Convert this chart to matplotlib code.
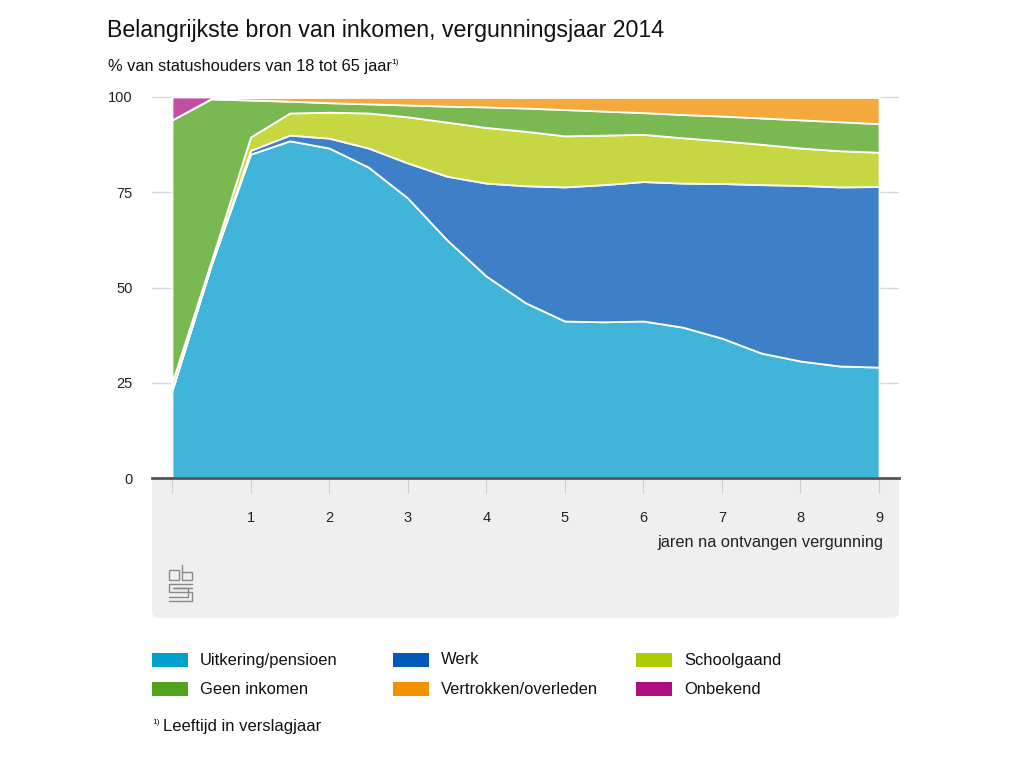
import matplotlib
matplotlib.use("Agg")
import matplotlib.pyplot as plt
from matplotlib.patches import FancyBboxPatch, Rectangle
from matplotlib.lines import Line2D

plt.rcParams['font.family'] = ['Liberation Sans', 'DejaVu Sans']

# jaren na ontvangen vergunning (halfjaarlijks)
jaren = [0, 0.5, 1, 1.5, 2, 2.5, 3, 3.5, 4, 4.5, 5, 5.5, 6, 6.5, 7, 7.5, 8, 8.5, 9]

uitkering = [23, 56, 85, 88.5, 86.6, 81.6, 73.5, 62.5, 53, 46, 41.2, 41, 41.2, 39.6, 36.7, 32.8, 30.7, 29.4, 29.1]
werk = [0, 0, 1, 1.5, 2.6, 5, 9.2, 16.7, 24.4, 30.7, 35.2, 36, 36.6, 37.8, 40.6, 44.2, 46.1, 47, 47.4]
school = [2, 1, 3.5, 5.8, 6.8, 9.2, 12.1, 14.2, 14.6, 14.3, 13.4, 13, 12.4, 11.9, 11.2, 10.6, 9.8, 9.5, 9]
geen = [69, 42.5, 9.7, 3.1, 2.5, 2.4, 3.1, 4.2, 5.4, 6.1, 6.9, 6.3, 5.7, 6.1, 6.5, 6.9, 7.4, 7.6, 7.5]
vertrokken = [0, 0.1, 0.7, 1.1, 1.5, 1.8, 2.1, 2.4, 2.6, 2.9, 3.3, 3.7, 4.1, 4.6, 5, 5.5, 6, 6.5, 7]
onbekend = [6, 0.4, 0.1, 0, 0, 0, 0, 0, 0, 0, 0, 0, 0, 0, 0, 0, 0, 0, 0]

namen = ['Uitkering/pensioen', 'Werk', 'Schoolgaand', 'Geen inkomen', 'Vertrokken/overleden', 'Onbekend']
kleuren_vlak = ['#40b5d9', '#3e80c8', '#c6d742', '#7ab852', '#f5a93c', '#c34ea4']
kleuren_legenda = ['#00a1cd', '#0058b8', '#afcb05', '#53a31d', '#f39200', '#af0e80']

W, H = 1024, 768
fig = plt.figure(figsize=(10.24, 7.68), dpi=100)

def fx(px):
    return px / W

def fy(py):
    return 1 - py / H

# grijs paneel onder de grafiek
paneel = FancyBboxPatch((fx(152), fy(618)), fx(899) - fx(152), fy(440) - fy(618),
                        boxstyle="round,pad=0,rounding_size=0.008", transform=fig.transFigure,
                        facecolor='#efefef', edgecolor='none', zorder=-5)
fig.patches.append(paneel)

ax = fig.add_axes([fx(152), fy(478), fx(899) - fx(152), fy(90) - fy(478)])
ax.set_facecolor('white')
ax.stackplot(jaren, uitkering, werk, school, geen, vertrokken, onbekend,
             colors=kleuren_vlak, edgecolor='white', linewidth=1.3, zorder=2)

ax.set_xlim(-20 / 78.6, 9 + 20 / 78.6)
ax.set_ylim(0, 100 * (478 - 90) / 381)
ax.set_yticks([0, 25, 50, 75, 100])
ax.set_yticklabels(['0', '25', '50', '75', '100'])
ax.grid(axis='y', color='#d9d9d9', linewidth=1, zorder=1)
ax.set_axisbelow(True)
ax.set_xticks(range(10))
ax.set_xticklabels([''] + [str(i) for i in range(1, 10)])
ax.tick_params(axis='x', direction='out', length=11, color='#d0d0d0', pad=13, labelsize=10.5, labelcolor='#222222')
ax.tick_params(axis='y', length=0, pad=14, labelsize=10.5, labelcolor='#222222')
for s in ['top', 'right', 'left']:
    ax.spines[s].set_visible(False)
ax.spines['bottom'].set_color('#555555')
ax.spines['bottom'].set_linewidth(2)
ax.spines['bottom'].set_zorder(5)

fig.text(fx(883), fy(543), 'jaren na ontvangen vergunning', ha='right', va='center', fontsize=11.8, color='#222222')

# cbs logo
grijs = '#8a8a8a'
fig.patches.append(Rectangle((fx(169), fy(580)), fx(10), fy(570) - fy(580), transform=fig.transFigure,
                             fill=False, edgecolor=grijs, linewidth=1))
fig.patches.append(Rectangle((fx(182), fy(580)), fx(10), fy(572) - fy(580), transform=fig.transFigure,
                             fill=False, edgecolor=grijs, linewidth=1))
fig.add_artist(Line2D([fx(182), fx(182)], [fy(572), fy(565)], transform=fig.transFigure, color=grijs, lw=1))
fig.add_artist(Line2D([fx(192), fx(169), fx(169), fx(192), fx(192), fx(169)],
                      [fy(584), fy(584), fy(592), fy(592), fy(601), fy(601)],
                      transform=fig.transFigure, color=grijs, lw=1))
fig.add_artist(Line2D([fx(192), fx(173), fx(173), fx(188), fx(188), fx(169)],
                      [fy(588), fy(588), fy(588), fy(588), fy(597), fy(597)],
                      transform=fig.transFigure, color=grijs, lw=1))

# titels
fig.text(fx(107), fy(30), 'Belangrijkste bron van inkomen, vergunningsjaar 2014', ha='left', va='center',
         fontsize=16.7, color='#111111')
fig.text(fx(108), fy(67), '% van statushouders van 18 tot 65 jaar', ha='left', va='center',
         fontsize=11.8, color='#111111')
fig.text(fx(391), fy(63), '1)', ha='left', va='center', fontsize=6, color='#111111')

# legenda
posities = [(152, 660), (393, 660), (636, 660), (152, 689), (393, 689), (636, 689)]
for (px, py), naam, kleur in zip(posities, namen, kleuren_legenda):
    fig.patches.append(Rectangle((fx(px), fy(py + 7)), fx(36), fy(py - 7) - fy(py + 7),
                                 transform=fig.transFigure, facecolor=kleur, edgecolor='none'))
    fig.text(fx(px + 48), fy(py), naam, ha='left', va='center', fontsize=11.9, color='#111111')

fig.text(fx(152), fy(723), '1)', ha='left', va='center', fontsize=6, color='#111111')
fig.text(fx(163), fy(726), 'Leeftijd in verslagjaar', ha='left', va='center', fontsize=12, color='#111111')

fig.savefig('out.png', dpi=100)
